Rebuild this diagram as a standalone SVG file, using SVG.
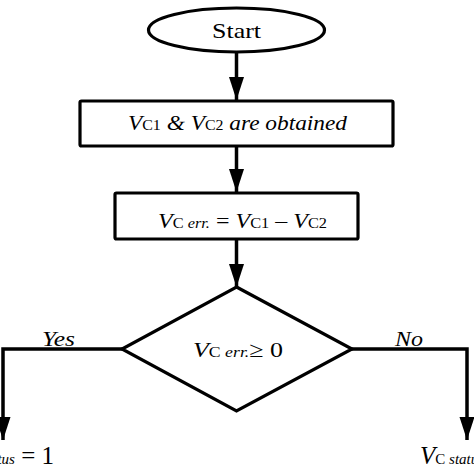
<svg xmlns="http://www.w3.org/2000/svg" width="474" height="474" viewBox="0 0 474 474">
<style>
.shape{fill:#fff;stroke:#000;stroke-width:3.2}
.conn{fill:none;stroke:#000;stroke-width:3.5}
.t{font-family:"Liberation Serif","Times New Roman",serif;font-size:22px;fill:#000}
.b{font-size:25px}
.i{font-style:italic}
.s{font-size:15px;font-style:normal}
.si{font-size:15px;font-style:italic}
</style>
<defs>
<marker id="ah" markerUnits="userSpaceOnUse" markerWidth="24" markerHeight="16" refX="23" refY="8" orient="auto">
<path d="M0,0.5 L23,8 L0,15.5 z" fill="#000"/>
</marker>
</defs>
<rect width="474" height="474" fill="#fff"/>
<g id="connectors">
<path class="conn" d="M236.5,52 V100" marker-end="url(#ah)"/>
<path class="conn" d="M236.5,146 V192" marker-end="url(#ah)"/>
<path class="conn" d="M236.5,239 V287" marker-end="url(#ah)"/>
<path class="conn" d="M122,349 H3 V440" marker-end="url(#ah)"/>
<path class="conn" d="M352,349 H467 V440" marker-end="url(#ah)"/>
<text class="t i" x="42" y="346" textLength="33" lengthAdjust="spacingAndGlyphs">Yes</text>
<text class="t i" x="395" y="346" textLength="28" lengthAdjust="spacingAndGlyphs">No</text>
</g>
<g id="start">
<ellipse class="shape" cx="236.5" cy="30" rx="88" ry="22"/>
<text class="t" x="236.5" y="38" text-anchor="middle" textLength="49" lengthAdjust="spacingAndGlyphs">Start</text>
</g>
<g id="obtain">
<rect class="shape" x="80" y="101" width="313" height="45" rx="1.5"/>
<text class="t" x="128" y="130" textLength="219" lengthAdjust="spacingAndGlyphs"><tspan class="i">V</tspan><tspan class="s">C1</tspan><tspan class="i"> &amp; V</tspan><tspan class="s">C2</tspan><tspan class="i"> are obtained</tspan></text>
</g>
<g id="error">
<rect class="shape" x="115" y="193" width="243" height="46" rx="1.5"/>
<text class="t" x="158" y="228" textLength="169" lengthAdjust="spacingAndGlyphs"><tspan class="i">V</tspan><tspan class="s">C </tspan><tspan class="si">err.</tspan> = <tspan class="i">V</tspan><tspan class="s">C1</tspan> – <tspan class="i">V</tspan><tspan class="s">C2</tspan></text>
</g>
<g id="decision">
<polygon class="shape" points="236.5,287 352,349 236.5,411 122,349"/>
<text class="t" x="193" y="357" textLength="90" lengthAdjust="spacingAndGlyphs"><tspan class="i">V</tspan><tspan class="s">C </tspan><tspan class="si">err.</tspan>≥  0</text>
</g>
<g id="yes-out">
<text class="t b" x="54" y="464" text-anchor="end"><tspan class="i">V</tspan><tspan class="s">C </tspan><tspan class="si">status</tspan> = 1</text>
</g>
<g id="no-out">
<text class="t b" x="420" y="464"><tspan class="i">V</tspan><tspan class="s">C </tspan><tspan class="si">status</tspan></text>
</g>
</svg>
